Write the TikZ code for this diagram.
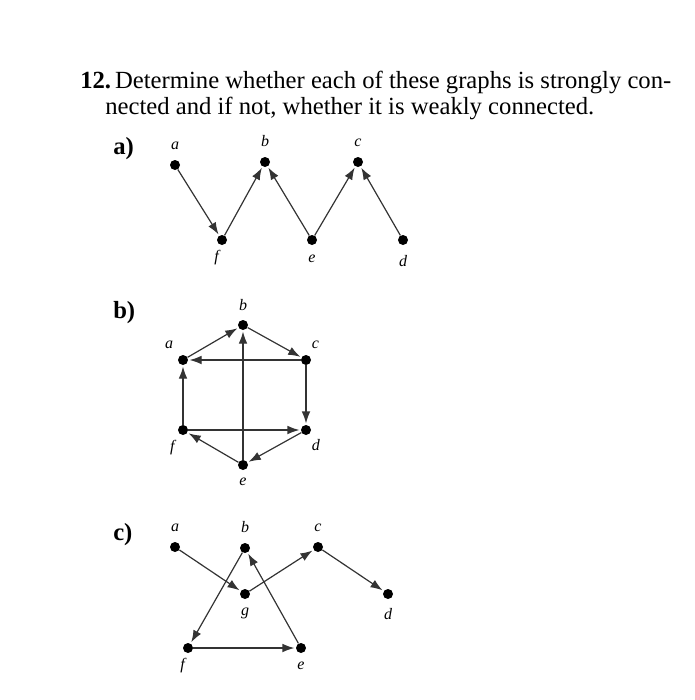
\documentclass[tikz,border=0pt]{standalone}
\usepackage{fontspec}
\setmainfont{Liberation Serif}
\usetikzlibrary{arrows.meta,positioning}
\begin{document}
\begin{tikzpicture}[x=0.75pt,y=-0.75pt,
  v/.style={circle,fill=black,inner sep=0pt,minimum size=7.5pt},
  lab/.style={font=\itshape\fontsize{12}{14}\selectfont},
  ar/.style={draw=black!80,line width=0.9pt,-{Latex[length=9pt,width=6.5pt]},shorten >=1pt},
  txt/.style={anchor=base west,inner sep=0pt,font=\fontsize{18.5}{22}\selectfont}]
\useasboundingbox (0,0) rectangle (695,700);
\node[txt] (t1) at (80,88) {\textbf{12.}\hspace{3pt}Determine whether each of these graphs is strongly con-};
\node[txt] (t2) at (105,114) {nected and if not, whether it is weakly connected.};
% a
\node[txt] (la) at (113,154) {\textbf{a)}};
\node[v] (a1) at (175,165) {}; \node[lab,above=4pt of a1] (la1) {a};
\node[v] (b1) at (265,162) {}; \node[lab,above=4pt of b1] (lb1) {b};
\node[v] (c1) at (358,162) {}; \node[lab,above=4pt of c1] (lc1) {c};
\node[v] (f1) at (222,240) {}; \node[lab,below left=1pt and -4pt of f1] (lf1) {f};
\node[v] (e1) at (312,240) {}; \node[lab,below=4pt of e1] (le1) {e};
\node[v] (d1) at (403,240) {}; \node[lab,below=4pt of d1] (ld1) {d};
\draw[ar] (a1)--(f1); \draw[ar] (f1)--(b1); \draw[ar] (e1)--(b1);
\draw[ar] (e1)--(c1); \draw[ar] (d1)--(c1);
% b
\node[txt] (lb) at (113,318) {\textbf{b)}};
\node[v] (b2) at (243,325) {}; \node[lab,above=3pt of b2] (lb2) {b};
\node[v] (a2) at (183,360) {}; \node[lab,above left=2pt and 1pt of a2] (la2) {a};
\node[v] (c2) at (306,360) {}; \node[lab,above right=2pt and -2pt of c2] (lc2) {c};
\node[v] (f2) at (183,430) {}; \node[lab,below left=1pt and 0pt of f2] (lf2) {f};
\node[v] (d2) at (306,430) {}; \node[lab,below right=1pt and -2pt of d2] (ld2) {d};
\node[v] (e2) at (243,465) {}; \node[lab,below=2pt of e2] (le2) {e};
\draw[ar] (a2)--(b2); \draw[ar] (b2)--(c2); \draw[ar] (c2)--(a2);
\draw[ar] (c2)--(d2); \draw[ar] (e2)--(b2); \draw[ar] (f2)--(a2);
\draw[ar] (f2)--(d2); \draw[ar] (d2)--(e2); \draw[ar] (e2)--(f2);
% c
\node[txt] (lc) at (113,540) {\textbf{c)}};
\node[v] (a3) at (175,547) {}; \node[lab,above=4pt of a3] (la3) {a};
\node[v] (b3) at (245,548) {}; \node[lab,above=4pt of b3] (lb3) {b};
\node[v] (c3) at (318,547) {}; \node[lab,above=4pt of c3] (lc3) {c};
\node[v] (g3) at (245,594) {}; \node[lab,below=3pt of g3] (lg3) {g};
\node[v] (d3) at (388,594) {}; \node[lab,below=3pt of d3] (ld3) {d};
\node[v] (f3) at (188,648) {}; \node[lab,below left=1pt and -4pt of f3] (lf3) {f};
\node[v] (e3) at (301,648) {}; \node[lab,below=3pt of e3] (le3) {e};
\draw[ar] (a3)--(g3); \draw[ar] (g3)--(c3); \draw[ar] (c3)--(d3);
\draw[ar] (b3)--(f3); \draw[ar] (f3)--(e3); \draw[ar] (e3)--(b3);
\end{tikzpicture}
\end{document}
